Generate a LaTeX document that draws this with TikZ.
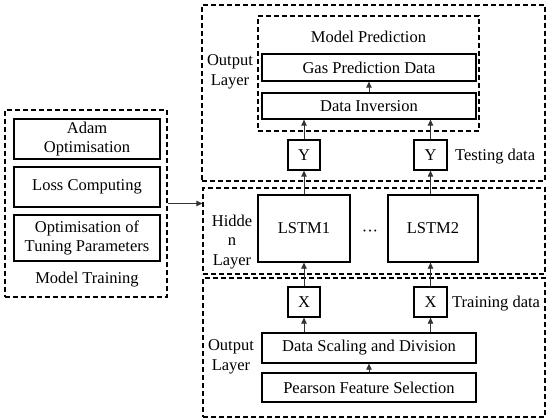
\documentclass[tikz,border=0pt]{standalone}
\usepackage{fontspec}
\setmainfont{Liberation Serif}
\usetikzlibrary{arrows.meta}
\begin{document}
\begin{tikzpicture}[x=1pt,y=-1pt,
  every node/.style={font=\fontsize{16.5}{19.5}\selectfont, inner sep=0pt, align=center},
  box/.style={draw, line width=1.3pt},
  dbox/.style={draw, line width=1.3pt, dash pattern=on 5pt off 3pt},
  arr/.style={-{Triangle[length=6pt,width=5.5pt]}, line width=0.8pt, draw=black!80},
  lbl/.style={}]
\useasboundingbox (0,0) rectangle (550,420);
% left training block
\node[dbox, minimum width=162pt, minimum height=187pt] (train) at (86,203.5) {};
\node[box, minimum width=146pt, minimum height=40pt] (adam) at (87,139) {Adam\\Optimisation};
\node[box, minimum width=146pt, minimum height=40pt] (loss) at (87,187) {Loss Computing};
\node[box, minimum width=146pt, minimum height=46pt] (opt) at (87,238) {Optimisation of\\Tuning Parameters};
\node[lbl] (mtl) at (87,280) {Model Training};
% right big blocks
\node[dbox, minimum width=343pt, minimum height=176pt] (top) at (373.5,93) {};
\node[dbox, minimum width=342pt, minimum height=86pt] (hid) at (374,231) {};
\node[dbox, minimum width=342pt, minimum height=139pt] (bot) at (374,347.5) {};
% model prediction
\node[dbox, minimum width=221pt, minimum height=115pt] (mp) at (368.5,73.5) {};
\node[lbl] (mpl) at (368.5,37) {Model Prediction};
\node[box, minimum width=214pt, minimum height=27pt] (gas) at (369,67.5) {Gas Prediction Data};
\node[box, minimum width=214pt, minimum height=26pt] (inv) at (369,106) {Data Inversion};
\node[lbl] (ol1) at (230,72) {Output\\Layer};
% Y boxes
\node[box, minimum width=32pt, minimum height=30pt] (y1) at (304,155) {Y};
\node[box, minimum width=33pt, minimum height=30pt] (y2) at (430.5,155) {Y};
\node[lbl, anchor=west] (test) at (455,157) {Testing data};
% LSTM
\node[box, minimum width=92pt, minimum height=67pt] (l1) at (304,228.5) {LSTM1};
\node[box, minimum width=90pt, minimum height=67pt] (l2) at (433,228.5) {LSTM2};
\node[lbl] (dots) at (370,233) {\char"00B7\char"00B7\char"00B7};
\node[lbl] (hl) at (232,242) {Hidde\\n\\Layer};
% X boxes
\node[box, minimum width=32pt, minimum height=30pt] (x1) at (304,302) {X};
\node[box, minimum width=33pt, minimum height=30pt] (x2) at (430.5,302) {X};
\node[lbl, anchor=west] (trd) at (452,304) {Training data};
% bottom
\node[box, minimum width=214pt, minimum height=30pt] (scl) at (369,348) {Data Scaling and Division};
\node[box, minimum width=214pt, minimum height=29pt] (prs) at (369,387.5) {Pearson Feature Selection};
\node[lbl] (ol2) at (231,357) {Output\\Layer};
% connectors
\draw[arr] (train.east) -- (train.east -| hid.west);
\draw[arr] (inv.north) -- (gas.south);
\draw[arr] (y1.north) -- (y1.north |- inv.south);
\draw[arr] (y2.north) -- (y2.north |- inv.south);
\draw[arr] (y1.south |- l1.north) -- (y1.south);
\draw[arr] (y2.south |- l2.north) -- (y2.south);
\draw[arr] (x1.north) -- (x1.north |- l1.south);
\draw[arr] (x2.north) -- (x2.north |- l2.south);
\draw[arr] (x1.south |- scl.north) -- (x1.south);
\draw[arr] (x2.south |- scl.north) -- (x2.south);
\draw[arr] (prs.north) -- (scl.south);
\end{tikzpicture}
\end{document}
